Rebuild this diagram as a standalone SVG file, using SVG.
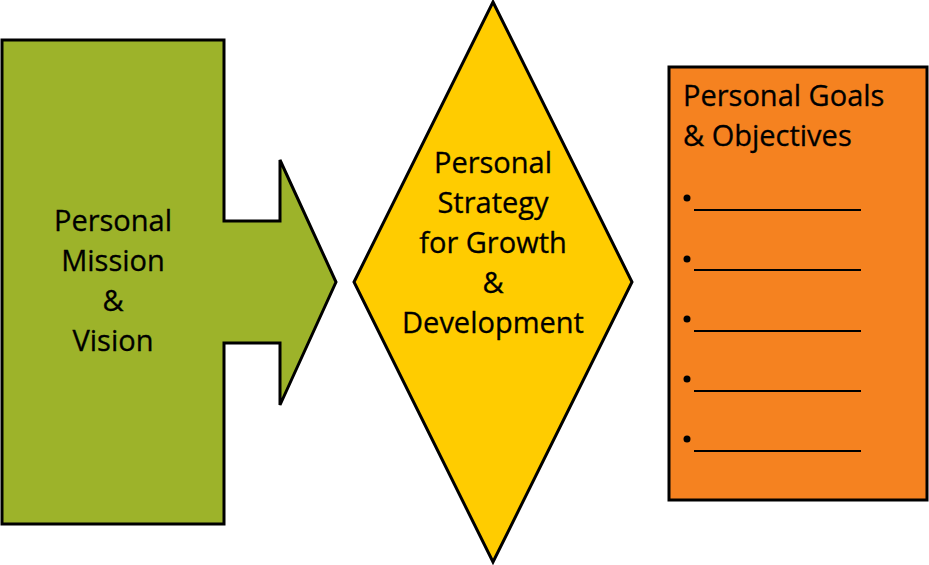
<svg xmlns="http://www.w3.org/2000/svg" width="929" height="565" viewBox="0 0 929 565">
<style>
.shape{stroke:#000;stroke-width:3;stroke-linejoin:miter}
.t{font-family:"Open Sans","Noto Sans",sans-serif;font-size:29px;fill:#000;stroke:#000;stroke-width:0.3}
.c{text-anchor:middle}
.ln{stroke:#000;stroke-width:2}
</style>
<rect width="929" height="565" fill="#fff"/>
<g id="mission">
<polygon class="shape" fill="#9DB32A" points="2,40 224,40 224,221 280,221 280,160 336,282 280,405 280,343 224,343 224,524 2,524"/>
<text class="t c" x="113" y="231">Personal</text>
<text class="t c" x="113" y="271">Mission</text>
<text class="t c" x="113" y="311">&amp;</text>
<text class="t c" x="113" y="351">Vision</text>
</g>
<g id="strategy">
<polygon class="shape" fill="#FFCC00" points="493,2 632,282 493,562 354,282"/>
<text class="t c" x="493" y="173">Personal</text>
<text class="t c" x="493" y="213">Strategy</text>
<text class="t c" x="493" y="253">for Growth</text>
<text class="t c" x="493" y="293">&amp;</text>
<text class="t c" x="493" y="333">Development</text>
</g>
<g id="goals">
<rect class="shape" fill="#F58220" x="669" y="67" width="258" height="433"/>
<text class="t" x="683" y="106">Personal Goals</text>
<text class="t" x="683" y="146">&amp; Objectives</text>
<g fill="#000">
<circle cx="687" cy="198" r="3.5"/>
<circle cx="687" cy="259" r="3.5"/>
<circle cx="687" cy="319" r="3.5"/>
<circle cx="687" cy="379" r="3.5"/>
<circle cx="687" cy="439" r="3.5"/>
</g>
<line class="ln" x1="694" y1="210" x2="861" y2="210"/>
<line class="ln" x1="694" y1="270" x2="861" y2="270"/>
<line class="ln" x1="694" y1="331" x2="861" y2="331"/>
<line class="ln" x1="694" y1="391" x2="861" y2="391"/>
<line class="ln" x1="694" y1="451" x2="861" y2="451"/>
</g>
<g id="connectors"></g>
</svg>
